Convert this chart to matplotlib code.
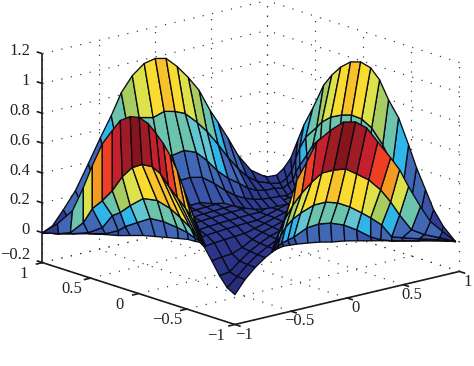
import numpy as np
import matplotlib
matplotlib.use("Agg")
import matplotlib.pyplot as plt
from matplotlib.colors import LinearSegmentedColormap
from mpl_toolkits.mplot3d import proj3d
from mpl_toolkits.mplot3d.art3d import Poly3DCollection

# tick values and labels
x_ticks = [-1, -0.5, 0, 0.5, 1]
y_ticks = [1, 0.5, 0, -0.5, -1]
z_ticks = [-0.2, 0, 0.2, 0.4, 0.6, 0.8, 1, 1.2]
xy_labels = {-1: "\u22121", -0.5: "\u22120.5", 0: "0", 0.5: "0.5", 1: "1"}
z_labels = ["\u22120.2", "0", "0.2", "0.4", "0.6", "0.8", "1", "1.2"]

# cell colours
palette = dict(n="#2e3c92", m="#3a55a8", b="#4068b4", s="#30b5e8", l="#62c6d0",
               t="#6cc4ac", g="#a6cc62", v="#dde24a", y="#fadc30", o="#f8c22a",
               a="#f59a20", e="#ee3f24", r="#c5202c", d="#a01c24", k="#85141c")

# back sheet, left hump: position along the diagonal, and height
bl_t = [
 [-1,-.952,-.9,-.842,-.78,-.722,-.67,-.622,-.569,-.512,-.459,-.407,-.354,-.301,-.249,-.196,-.158,-.11,-.062,0,.072],
 [-1,-.914,-.856,-.794,-.737,-.684,-.636,-.593,-.536,-.469,-.416,-.364,-.316,-.258,-.211,-.158,-.11,-.062,-.019,.029,.091],
 [-1,-.914,-.842,-.78,-.722,-.66,-.603,-.55,-.493,-.435,-.378,-.321,-.263,-.211,-.163,-.11,-.057,-.014,.029,.067,.115],
 [-1,-.914,-.842,-.78,-.708,-.636,-.579,-.517,-.459,-.397,-.34,-.292,-.234,-.177,-.124,-.077,-.029,.014,.053,.091,.139],
 [-1,-.914,-.842,-.77,-.699,-.627,-.555,-.493,-.435,-.378,-.292,-.244,-.187,-.129,-.077,-.029,.014,.053,.091,.129,.177],
]
bl_z = [
 [0,.048,.157,.287,.47,.646,.795,.95,1.066,1.149,1.184,1.186,1.133,1.062,.977,.844,.765,.66,.547,.449,.405],
 [0,.016,.052,.141,.29,.426,.561,.73,.786,.788,.831,.832,.82,.762,.703,.618,.532,.46,.408,.376,.365],
 [0,.003,.019,.074,.157,.259,.362,.417,.465,.514,.537,.572,.561,.508,.443,.392,.36,.328,.315,.317,.332],
 [0,.003,.005,.034,.077,.126,.175,.23,.273,.315,.37,.392,.395,.356,.311,.279,.261,.255,.257,.265,.279],
 [0,.003,.005,.008,.01,.026,.055,.084,.113,.135,.205,.225,.22,.224,.205,.194,.188,.19,.198,.212,.227],
]
bl_c = ["nnbbbstgvyoyvgtsbbnn", "nbbbbsttttttllsbbnnn", "bbbbbbbbbbbbbbmmnnnn", "mmmmmmmmmmmmmmnnnnnn"]

# back sheet, right hump
br_t = [
 [.072,.124,.158,.191,.225,.254,.297,.349,.388,.431,.478,.526,.574,.617,.66,.708,.756,.794,.837,.876,.923,.981],
 [.091,.139,.172,.196,.215,.234,.263,.316,.34,.383,.435,.483,.531,.579,.632,.679,.727,.766,.809,.847,.904,.981],
 [.115,.153,.177,.201,.215,.234,.268,.297,.335,.378,.426,.474,.522,.569,.617,.665,.713,.761,.809,.856,.914,.981],
 [.139,.177,.196,.215,.23,.249,.282,.321,.359,.402,.45,.498,.545,.593,.641,.689,.737,.785,.833,.88,.928,.981],
]
br_z = [
 [.405,.42,.468,.536,.658,.759,.874,1.03,1.098,1.153,1.189,1.19,1.152,1.073,.94,.822,.642,.49,.344,.211,.099,0],
 [.365,.366,.401,.455,.537,.604,.679,.747,.782,.816,.832,.833,.808,.75,.638,.505,.339,.24,.154,.088,.037,0],
 [.332,.334,.361,.388,.443,.49,.559,.626,.674,.696,.697,.699,.667,.601,.503,.37,.238,.139,.074,.035,.017,0],
 [.279,.287,.308,.336,.363,.37,.392,.427,.428,.429,.431,.399,.367,.301,.203,.104,.038,.02,.008,.003,.005,0],
]
br_c = ["nnnnbstgvyoyvgtsbbmnn", "nnnmbsttttttttsbbmnnn", "nnnmmbbbbbbbbbbbbmnnn"]

# front sheet, left lobe
fl_t = [
 [-1,-.928,-.856,-.804,-.761,-.713,-.665,-.627,-.579,-.536,-.493,-.455,-.421,-.388,-.354,-.325,-.292,-.258,-.22],
 [-1,-.923,-.866,-.804,-.761,-.713,-.665,-.617,-.569,-.522,-.474,-.435,-.397,-.354,-.316,-.287,-.258,-.239,-.22],
 [-1,-.928,-.856,-.78,-.713,-.665,-.627,-.579,-.517,-.45,-.388,-.34,-.292,-.258,-.244,-.234,-.225,-.22,-.22],
 [-1,-.928,-.856,-.78,-.699,-.636,-.603,-.545,-.483,-.421,-.354,-.306,-.268,-.244,-.234,-.23,-.225,-.22,-.22],
 [-1,-.928,-.856,-.78,-.699,-.636,-.579,-.517,-.459,-.402,-.349,-.301,-.268,-.244,-.234,-.23,-.225,-.22,-.22],
]
fl_z = [
 [0,.063,.152,.308,.457,.605,.695,.763,.791,.786,.747,.681,.616,.537,.437,.324,.192,.072,-.061],
 [0,-.004,.005,.074,.169,.224,.293,.388,.45,.472,.459,.414,.335,.256,.19,.131,.058,-.001,-.061],
 [0,-.004,-.002,.007,.043,.125,.147,.195,.244,.233,.182,.123,.058,-.009,-.028,-.042,-.054,-.061,-.061],
 [0,-.004,-.002,.001,.003,.025,.054,.082,.111,.093,.055,.023,-.015,-.035,-.042,-.048,-.054,-.061,-.061],
 [0,-.004,-.002,.001,-.003,-.008,-.006,-.004,-.009,-.014,-.019,-.024,-.036,-.042,-.048,-.052,-.054,-.061,-.061],
]
fl_c = ["nbtvaerdkdrreaovts", "nbbbstgvyooyvgtsbn", "nnmmbbsltttlssbbnn", "nnnmmmbbbbbbbmmnnn"]

# front sheet, right lobe
fr_t = [
 [.1,.134,.158,.191,.22,.268,.316,.383,.445,.502,.555,.608,.67,.713,.756,.813,.861,.919,.981],
 [.1,.115,.134,.163,.201,.244,.292,.34,.397,.455,.507,.565,.622,.67,.713,.77,.833,.904,.981],
 [.1,.11,.124,.144,.167,.201,.239,.301,.359,.416,.474,.531,.574,.627,.675,.727,.809,.895,.981],
 [.1,.105,.115,.129,.148,.177,.206,.268,.325,.383,.445,.507,.574,.622,.675,.727,.809,.895,.981],
 [.1,.105,.115,.134,.158,.187,.22,.273,.33,.388,.45,.512,.579,.632,.684,.737,.809,.895,.981],
]
fr_z = [
 [-.097,.018,.119,.255,.389,.512,.647,.729,.785,.787,.749,.657,.552,.473,.361,.229,.13,.065,0],
 [-.097,-.036,.031,.126,.221,.303,.378,.44,.462,.471,.439,.401,.336,.257,.171,.073,.042,.024,0],
 [-.097,-.076,-.035,.019,.073,.127,.169,.224,.246,.242,.217,.179,.147,.101,.023,.018,.013,.01,0],
 [-.097,-.09,-.076,-.056,-.035,-.014,.007,.07,.098,.106,.095,.064,.019,.001,-.004,-.002,0,.003,0],
 [-.097,-.09,-.083,-.069,-.055,-.048,-.04,-.031,-.023,-.021,-.012,-.009,-.007,-.005,-.004,-.002,0,.003,0],
]
fr_c = ["stgyaerdkdreavtbbn", "nbstgvyyoyyvgsbbmn", "nnbbssltttlsbbmmnn", "nnnnmmbbbbbmmmmnnn"]

# central funnel sheet over the front quadrant
funnel_x = [-1, -.91, -.82, -.73, -.64, -.55, -.46, -.37, -.28, -.19, -.1, -.01, .08]
funnel_y = [-1, -.92, -.84, -.76, -.68, -.6, -.52, -.44, -.36, -.28, -.2, -.12, -.04]
funnel_z = [
 [0,.085,.15,.2,.238,.27,.29,.31,.33,.35,.36,.36,.37],
 [.03,.088,.153,.203,.241,.273,.293,.313,.333,.353,.363,.363,.373],
 [.094,.103,.159,.209,.247,.279,.299,.319,.339,.359,.369,.369,.379],
 [.177,.186,.192,.218,.256,.288,.308,.328,.348,.368,.378,.378,.388],
 [.255,.264,.27,.275,.279,.296,.316,.336,.356,.376,.386,.386,.396],
 [.29,.299,.305,.31,.314,.317,.319,.339,.359,.379,.389,.389,.399],
 [.31,.319,.325,.33,.334,.337,.339,.341,.361,.381,.391,.391,.401],
 [.33,.339,.345,.35,.354,.357,.359,.361,.363,.383,.393,.393,.403],
 [.34,.349,.355,.36,.364,.367,.369,.371,.373,.384,.394,.394,.404],
 [.35,.359,.365,.37,.374,.377,.379,.381,.383,.385,.395,.395,.405],
 [.36,.369,.375,.38,.384,.387,.389,.391,.393,.395,.396,.396,.406],
 [.37,.379,.385,.39,.394,.397,.399,.401,.403,.405,.406,.406,.407],
 [.37,.379,.385,.39,.394,.397,.399,.401,.403,.405,.406,.406,.407],
]

plt.rcParams["font.family"] = ["Liberation Serif", "DejaVu Serif"]
fig = plt.figure(figsize=(4.74, 3.66), dpi=100)
ax = fig.add_axes([0.019, 0.0423, 1, 1], projection="3d", computed_zorder=False)
ax.set_proj_type("ortho")
ax.view_init(elev=16, azim=-130.6)
ax.set_box_aspect((1, 1, 0.735), zoom=1.25)
ax.set_xlim(-1, 1)
ax.set_ylim(-1, 1)
ax.set_zlim(-0.2, 1.2)
ax.set_axis_off()


def quads(X, Y, Z):
    out = []
    for i in range(X.shape[0] - 1):
        for j in range(X.shape[1] - 1):
            out.append([(X[i, j], Y[i, j], Z[i, j]), (X[i, j + 1], Y[i, j + 1], Z[i, j + 1]),
                        (X[i + 1, j + 1], Y[i + 1, j + 1], Z[i + 1, j + 1]), (X[i + 1, j], Y[i + 1, j], Z[i + 1, j])])
    return out


def add_mesh(X, Y, Z, colors, order):
    c = Poly3DCollection(quads(X, Y, Z), facecolors=colors, edgecolors="#0a0a14",
                         linewidths=0.95, zorder=order)
    c.set_clip_on(False)
    ax.add_collection3d(c, autolim=False)


def add_sheet(t_rows, z_rows, codes, order):
    t = np.array(t_rows, float)
    z = np.array(z_rows, float)
    add_mesh(t, -t, z, [palette[ch] for row in codes for ch in row], order)


dot = dict(color="#333333", lw=0.85, ls=(0, (1, 7.2)), zorder=1, clip_on=False)
for v in x_ticks:
    ax.plot([v, v], [-1, 1], [-0.2, -0.2], **dot)
    ax.plot([v, v], [1, 1], [-0.2, 1.2], **dot)
for v in y_ticks:
    ax.plot([-1, 1], [v, v], [-0.2, -0.2], **dot)
    ax.plot([1, 1], [v, v], [-0.2, 1.2], **dot)
for v in z_ticks:
    ax.plot([-1, 1], [1, 1], [v, v], **dot)
    ax.plot([1, 1], [-1, 1], [v, v], **dot)

fx, fy = np.meshgrid(funnel_x, funnel_y)
fz = np.array(funnel_z)
navy = LinearSegmentedColormap.from_list("navy", ["#262a78", "#2c358a", "#33429a"])
mean_z = (fz[:-1, :-1] + fz[1:, :-1] + fz[:-1, 1:] + fz[1:, 1:]) / 4
add_mesh(fx, fy, fz, navy(mean_z.ravel() / 0.41), 2)

add_sheet(bl_t, bl_z, bl_c, 3)
add_sheet(br_t, br_z, br_c, 4)
add_sheet(fl_t, fl_z, fl_c, 5)
add_sheet(fr_t, fr_z, fr_c, 6)

axis = dict(color="#1a1a1a", lw=1.2, zorder=8, solid_capstyle="butt", clip_on=False)
ax.plot([-1, -1], [1, 1], [-0.2, 1.2], **axis)
ax.plot([-1, -1], [1, -1], [-0.2, -0.2], **axis)
ax.plot([-1, 1], [-1, -1], [-0.2, -0.2], **axis)
for v in z_ticks:
    ax.plot([-1, -1], [1, 1.06], [v, v], **axis)
for v in y_ticks:
    ax.plot([-1, -1.06], [v, v], [-0.2, -0.2], **axis)
for v in x_ticks:
    ax.plot([v, v], [-1, -1.06], [-0.2, -0.2], **axis)

M = ax.get_proj()


def label(x, y, z, s, ha):
    px, py, _ = proj3d.proj_transform(x, y, z, M)
    ax.text2D(px, py, s, transform=ax.transData, ha=ha, va="center", fontsize=12,
              color="#222222", zorder=9, clip_on=False)


for v, s in zip(z_ticks, z_labels):
    up = 0.05 if v == -0.2 else 0.015
    label(-1.06, 1.06, v + up, s, "right")
for v in y_ticks:
    label(-1.17, v, -0.245, xy_labels[v], "center")
for v in x_ticks:
    label(v, -1.09, -0.25, xy_labels[v], "center")

fig.savefig("out.png", dpi=100)
